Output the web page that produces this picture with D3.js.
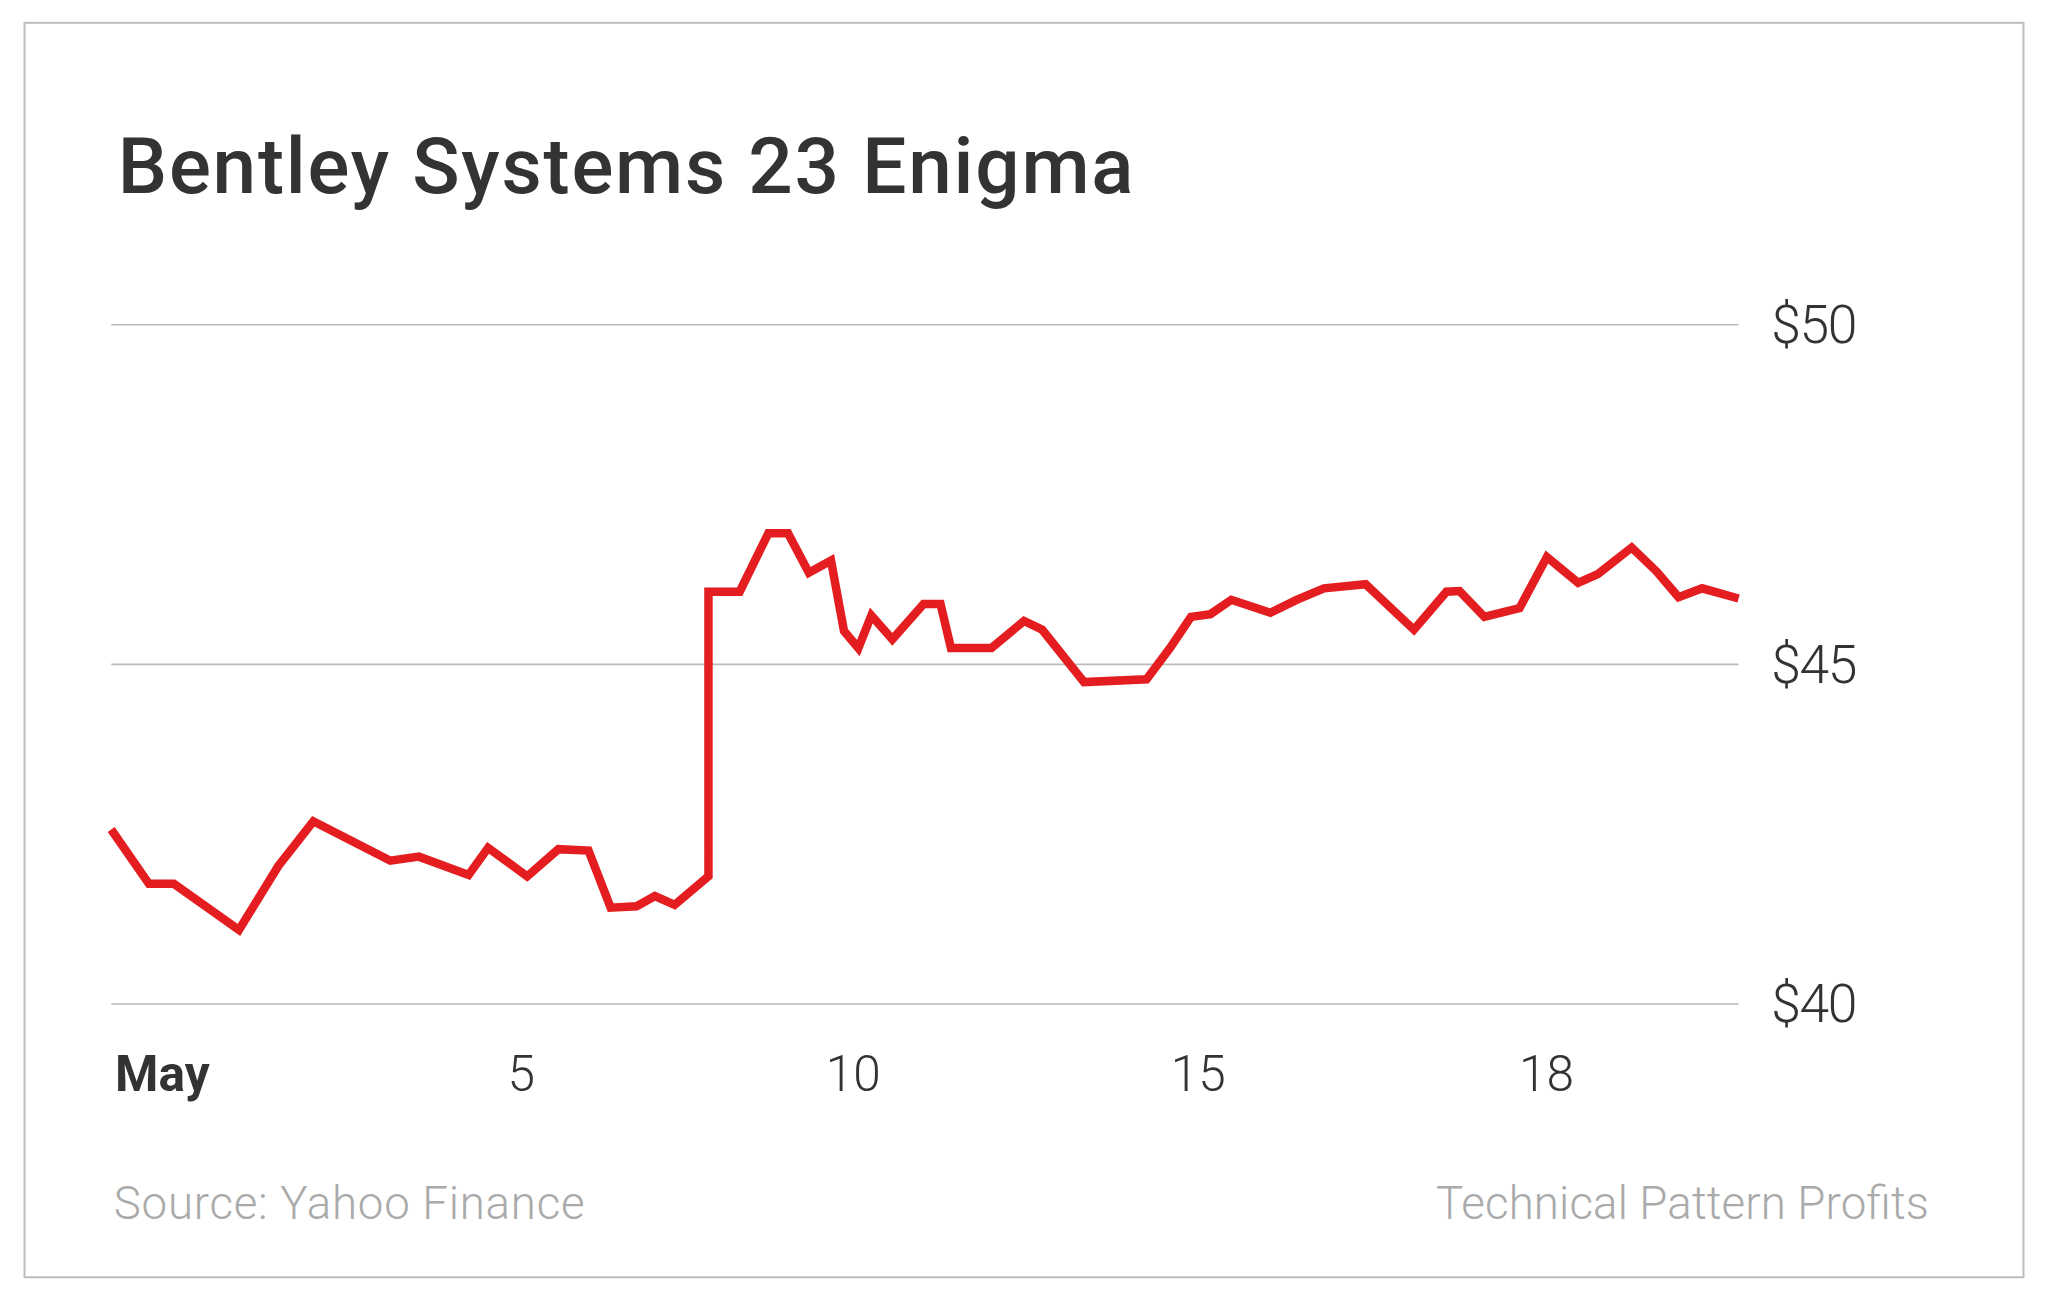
<!DOCTYPE html>
<html><head><meta charset="utf-8">
<script src="https://cdn.jsdelivr.net/npm/d3@7"></script>
<style>html,body{margin:0;padding:0;background:#fff;}</style>
</head><body>
<script>
// x position in session units (0..100), price in $
const sessionPos = [0,2.32,3.85,7.85,10.26,12.42,17.15,18.91,21.96,23.16,25.56,27.48,29.33,30.69,32.29,33.41,34.62,36.70,36.70,38.62,40.38,41.59,42.87,44.23,45.03,45.91,46.71,48.00,49.92,50.96,51.60,54.09,56.09,57.21,59.78,63.62,65.06,66.35,67.55,68.83,71.23,72.84,74.52,77.08,80.05,82.05,82.85,84.38,86.54,88.22,90.14,91.35,93.43,94.95,96.31,97.76,100];
const prices = [42.57,41.77,41.77,41.09,42.03,42.69,42.11,42.17,41.90,42.30,41.88,42.28,42.26,41.42,41.44,41.59,41.46,41.88,46.07,46.07,46.93,46.93,46.35,46.53,45.49,45.24,45.72,45.37,45.89,45.89,45.24,45.24,45.64,45.51,44.74,44.78,45.24,45.70,45.74,45.95,45.76,45.95,46.12,46.18,45.51,46.07,46.08,45.70,45.83,46.58,46.20,46.33,46.72,46.37,45.99,46.12,45.97];
const xTickPos = [0,25.2,45.6,66.8,88.2];
const xTickLabels = ["May","5","10","15","18"];
const yTicks = [40,45,50];

const svg = d3.select("body").append("svg")
  .attr("width",2048).attr("height",1304).attr("viewBox","0 0 1568 1000");
svg.append("rect").attr("x",17.5).attr("y",17.5).attr("width",1533).attr("height",962)
  .attr("fill","#fff").attr("stroke","#bdbdbd").attr("stroke-width",1.5);
svg.append("text").attr("x",89).attr("y",148).text("Bentley Systems 23 Enigma")
  .attr("font-family","Roboto, 'Liberation Sans', sans-serif").attr("font-weight",500)
  .attr("font-size",60).attr("fill","#333").attr("textLength",779).attr("lengthAdjust","spacing");

const x = d3.scaleLinear().domain([0,100]).range([84,1332]);
const y = d3.scaleLinear().domain([40,50]).range([770,249]);

const g = svg.append("g");
g.selectAll("line.grid").data(yTicks).join("line")
  .attr("x1",84).attr("x2",1332).attr("y1",d=>y(d)).attr("y2",d=>y(d))
  .attr("stroke","#bbb").attr("stroke-width",1.2);
g.selectAll("text.y").data(yTicks).join("text")
  .attr("x",1357).attr("y",d=>y(d)+14).text(d=>"$"+d)
  .attr("font-family","Roboto, sans-serif").attr("font-weight",300)
  .attr("font-size",41).attr("fill","#333").attr("letter-spacing","-1");
g.selectAll("text.x").data(xTickPos).join("text")
  .attr("x",(d,i)=> i===0 ? 87 : x(d)).attr("y",837)
  .attr("text-anchor",(d,i)=> i===0?"start":"middle")
  .text((d,i)=>xTickLabels[i])
  .attr("font-family","Roboto, sans-serif").attr("font-weight",(d,i)=>i===0?700:300)
  .attr("font-size",38).attr("fill","#333");

const line = d3.line().x((d,i)=>x(sessionPos[i])).y(d=>y(d));
g.append("path").attr("d",line(prices)).attr("fill","none")
  .attr("stroke","#e41e20").attr("stroke-width",6.5).attr("stroke-linejoin","miter");

svg.append("text").attr("x",86).attr("y",935).text("Source: Yahoo Finance")
  .attr("font-family","Roboto, sans-serif").attr("font-weight",300).attr("font-size",35).attr("fill","#aaa")
  .attr("textLength",361).attr("lengthAdjust","spacing");
svg.append("text").attr("x",1100).attr("y",935).text("Technical Pattern Profits")
  .attr("font-family","Roboto, sans-serif").attr("font-weight",300).attr("font-size",35).attr("fill","#aaa")
  .attr("textLength",378).attr("lengthAdjust","spacing");
</script>
</body></html>
